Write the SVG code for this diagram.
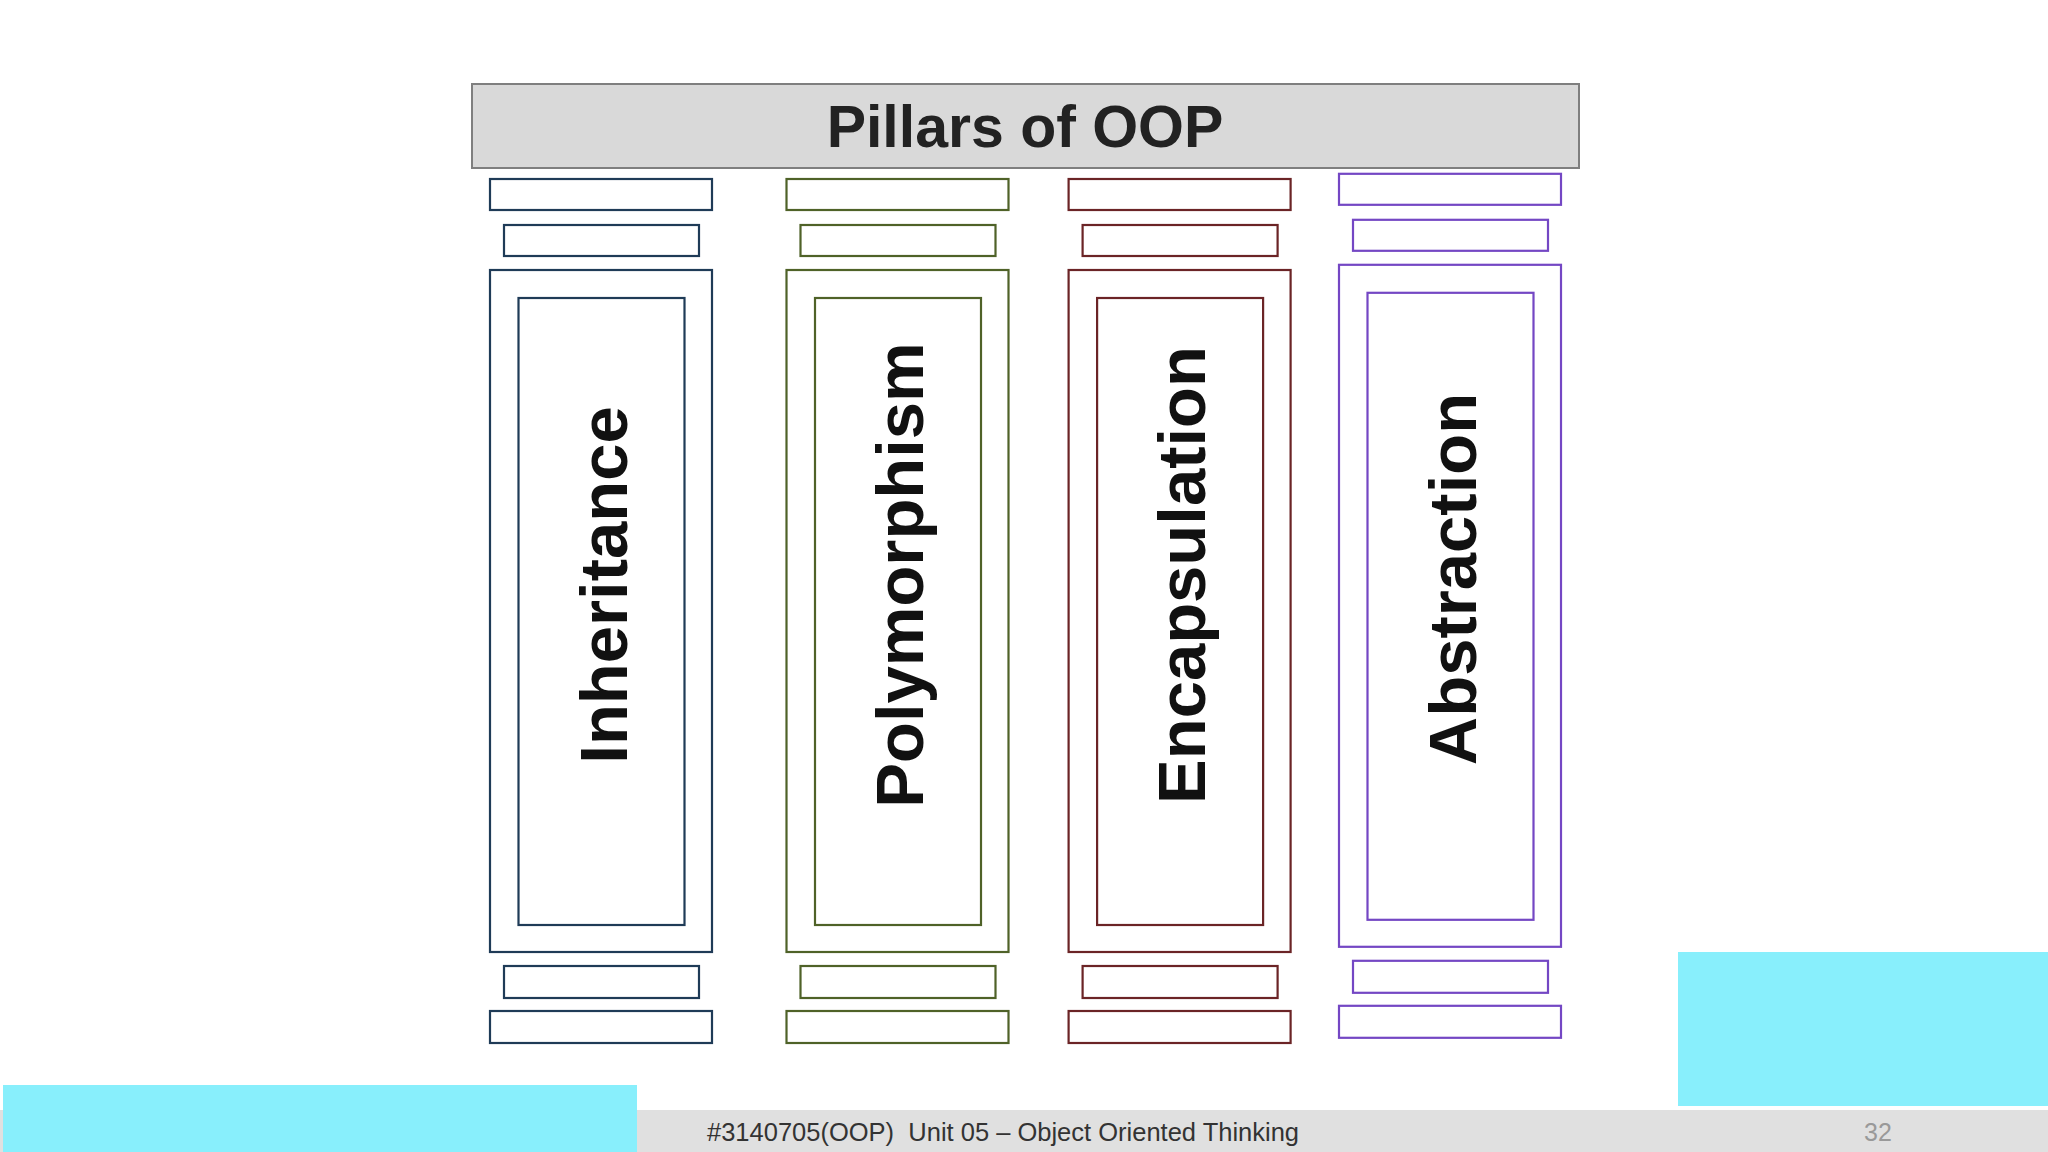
<svg xmlns="http://www.w3.org/2000/svg" width="2048" height="1152" viewBox="0 0 2048 1152">
<style>
.t{font-family:"Liberation Sans",Arial,sans-serif;font-weight:bold;fill:#222}
.pr{fill:none;stroke-width:2.2}
.lbl{font-family:"Liberation Sans",Arial,sans-serif;font-weight:bold;font-size:67px;fill:#111;text-anchor:middle}
</style>
<rect width="2048" height="1152" fill="#fff"/>
<rect x="1678" y="952" width="370" height="154" fill="#88effc"/>
<rect x="0" y="1110" width="2048" height="42" fill="#e0e0e0"/>
<rect x="3" y="1085" width="634" height="67" fill="#88effc"/>
<g id="title"><rect x="472" y="84" width="1107" height="84" fill="#d9d9d9" stroke="#7f7f7f" stroke-width="2"/>
<text class="t" x="1025" y="147" font-size="59" text-anchor="middle">Pillars of OOP</text></g>
<defs>
<g id="pil">
<rect class="pr" x="490" y="179" width="222" height="31"/>
<rect class="pr" x="504" y="225" width="195" height="31"/>
<rect class="pr" x="490" y="270" width="222" height="682"/>
<rect class="pr" x="518.5" y="298" width="166" height="627"/>
<rect class="pr" x="504" y="966" width="195" height="32"/>
<rect class="pr" x="490" y="1011" width="222" height="32"/>
</g>
</defs>
<g id="inheritance"><use href="#pil" stroke="#1f3b57"/>
<text class="lbl" transform="translate(603,585) rotate(-90)" y="24">Inheritance</text></g>
<g id="polymorphism"><use href="#pil" stroke="#4f6228" transform="translate(296.5,0)"/>
<text class="lbl" transform="translate(899,575) rotate(-90)" y="24">Polymorphism</text></g>
<g id="encapsulation"><use href="#pil" stroke="#6b2426" transform="translate(578.6,0)"/>
<text class="lbl" transform="translate(1181,575) rotate(-90)" y="24">Encapsulation</text></g>
<g id="abstraction"><use href="#pil" stroke="#7447c4" transform="translate(849,-5.2)"/>
<text class="lbl" transform="translate(1452,579) rotate(-90)" y="24">Abstraction</text></g>
<g id="connectors"/>
<text x="707" y="1141" font-family="Liberation Sans,Arial,sans-serif" font-size="25.5" fill="#333" xml:space="preserve">#3140705(OOP)  Unit 05 – Object Oriented Thinking</text>
<text x="1864" y="1141" font-family="Liberation Sans,Arial,sans-serif" font-size="25" fill="#999">32</text>
</svg>
